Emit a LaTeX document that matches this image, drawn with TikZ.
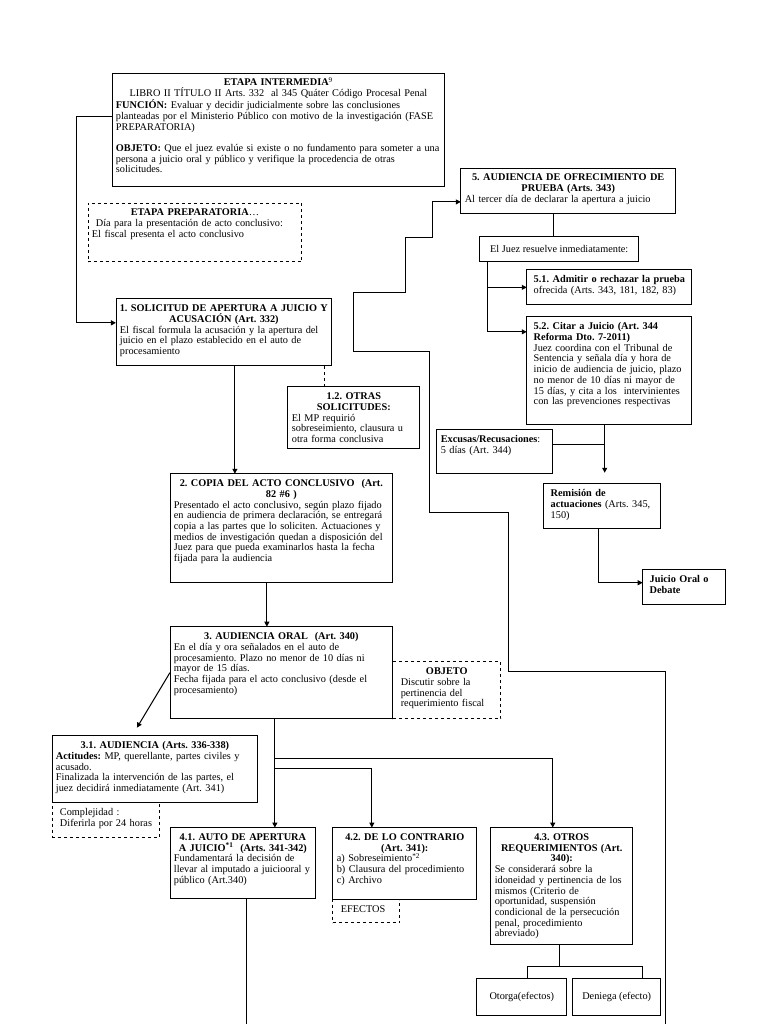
\documentclass[tikz,border=0pt]{standalone}
\usepackage{fontspec}
\setmainfont{Liberation Serif}
\usetikzlibrary{arrows.meta}
\tikzset{
  box/.style={draw, line width=0.8pt, anchor=north west, outer sep=0pt,
    inner xsep=4pt, inner ysep=3pt, align=left,
    font=\fontsize{10.3}{10.7}\selectfont\frenchspacing},
  dbox/.style={box, dashed},
  sz/.code 2 args={\pgfmathsetmacro\boxw{#1-8}\pgfmathsetmacro\boxd{#2-16}%
    \edef\boxtmp{\noexpand\pgfkeysalso{text width=\boxw pt, text height=10pt, text depth=\boxd pt}}\boxtmp},
  pz/.code 2 args={\pgfmathsetmacro\boxw{#1-14}\pgfmathsetmacro\boxd{#2-16}%
    \edef\boxtmp{\noexpand\pgfkeysalso{inner xsep=7pt, text width=\boxw pt, text height=10pt, text depth=\boxd pt}}\boxtmp},
  arr/.style={line width=1pt, -{Triangle[length=5pt,width=5pt]}},
  ln/.style={line width=1pt}
}
\begin{document}
\begin{tikzpicture}[x=1pt, y=-1pt]
    \path[fill=white] (0,0) rectangle (768,1024);
    \coordinate (e1) at (0,1024);
    \coordinate (e2) at (666,1024);

    \node[box, sz={333}{113}] (inter) at (112,73) {{\centering\textbf{ETAPA INTERMEDIA}\textsuperscript{9}\\
        LIBRO II TÍTULO II Arts. 332\ \ al 345 Quáter Código Procesal Penal\par}
        \textbf{FUNCIÓN:} Evaluar y decidir judicialmente sobre las conclusiones\\
        planteadas por el Ministerio Público con motivo de la investigación (FASE\\
        PREPARATORIA)\\[10.7pt]
        \textbf{OBJETO:} Que el juez evalúe si existe o no fundamento para someter a una\\
        persona a juicio oral y público y verifique la procedencia de otras\\
        solicitudes.};
    \node[dbox, sz={214}{59}] (prep) at (88,203) {{\centering\textbf{ETAPA PREPARATORIA}\ldots\par}
        \hspace{4pt}Día para la presentación de acto conclusivo:\\
        El fiscal presenta el acto conclusivo};

    \node[box, sz={216}{67}] (b1) at (116,299) {{\centering\makebox[\linewidth][c]{\textbf{1. SOLICITUD DE APERTURA A JUICIO Y}}\\
        \textbf{ACUSACIÓN (Art. 332)}\par}
        El fiscal formula la acusación y la apertura del\\
        juicio en el plazo establecido en el auto de\\
        procesamiento};
    \node[box, sz={132}{62}] (b12) at (288,387) {{\centering\textbf{1.2. OTRAS\\ SOLICITUDES:}\par}
        El MP requirió\\
        sobreseimiento, clausura u\\
        otra forma conclusiva};

    \node[box, sz={223}{109}] (b2) at (170,474) {{\centering\textbf{2. COPIA DEL ACTO CONCLUSIVO\ \ (Art.\\ 82 \#6 )}\par}
        Presentado el acto conclusivo, según plazo fijado\\
        en audiencia de primera declaración, se entregará\\
        copia a las partes que lo soliciten. Actuaciones y\\
        medios de investigación quedan a disposición del\\
        Juez para que pueda examinarlos hasta la fecha\\
        fijada para la audiencia};

    \node[dbox, sz={108}{57}] (obj) at (393,662) {{\centering\textbf{OBJETO}\par}
        \hspace{4pt}Discutir sobre la\\
        \hspace{4pt}pertinencia del\\
        \hspace{4pt}requerimiento fiscal};
    \node[box, sz={223}{92}] (b3) at (170,627) {{\centering\textbf{3. AUDIENCIA ORAL\ \ (Art. 340)}\par}
        En el día y ora señalados en el auto de\\
        procesamiento. Plazo no menor de 10 días ni\\
        mayor de 15 días.\\
        Fecha fijada para el acto conclusivo (desde el\\
        procesamiento)};

    \node[box, sz={206}{67}] (b31) at (52,736) {{\centering\textbf{3.1. AUDIENCIA (Arts. 336-338)}\par}
        \textbf{Actitudes:} MP, querellante, partes civiles y\\
        acusado.\\
        Finalizada la intervención de las partes, el\\
        juez decidirá inmediatamente (Art. 341)};
    \node[dbox, sz={107}{35}] (comp) at (52,803) {\hspace{4pt}Complejidad :\\ \hspace{4pt}Diferirla por 24 horas};

    \node[box, sz={146}{71}] (b41) at (170,828) {{\centering\textbf{4.1. AUTO DE APERTURA\\
        A JUICIO\textsuperscript{*1}\ \ (Arts. 341-342)}\par}
        Fundamentará la decisión de\\
        llevar al imputado a juiciooral y\\
        público (Art.340)};
    \node[box, sz={144}{72}] (b42) at (333,828) {{\centering\textbf{4.2. DE LO CONTRARIO\\ (Art. 341):}\par}
        a) Sobreseimiento\textsuperscript{*2}\\
        b) Clausura del procedimiento\\
        c) Archivo};
    \node[dbox, sz={67}{23}] (efe) at (333,900) {\hspace{4pt}EFECTOS};
    \node[box, sz={142}{117}] (b43) at (491,828) {{\centering\textbf{4.3. OTROS\\ REQUERIMIENTOS (Art.\\ 340):}\par}
        Se considerará sobre la\\
        idoneidad y pertinencia de los\\
        mismos (Criterio de\\
        oportunidad, suspensión\\
        condicional de la persecución\\
        penal, procedimiento\\
        abreviado)};
    \node[box, minimum width=90pt, minimum height=37pt] (oto) at (477,979) {Otorga(efectos)};
    \node[box, minimum width=88pt, minimum height=37pt] (den) at (573,979) {Deniega (efecto)};

    \node[box, sz={215}{46}] (b5) at (461,168) {{\centering\textbf{5. AUDIENCIA DE OFRECIMIENTO DE\\ PRUEBA (Arts. 343)}\par}
        Al tercer día de declarar la apertura a juicio};
    \node[box, minimum width=159pt, minimum height=25pt] (juez) at (480,237) {El Juez resuelve inmediatamente:};
    \node[box, pz={165}{35}] (b51) at (527,270) {\makebox[\linewidth][l]{\textbf{5.1. Admitir o rechazar la prueba}}\\
        ofrecida (Arts. 343, 181, 182, 83)};
    \node[box, pz={165}{108}] (b52) at (527,317) {\textbf{5.2. Citar a Juicio (Art. 344\\
        Reforma Dto. 7-2011)}\\
        Juez coordina con el Tribunal de\\
        Sentencia y señala día y hora de\\
        inicio de audiencia de juicio, plazo\\
        no menor de 10 días ni mayor de\\
        15 días, y cita a los\ \ intervinientes\\
        con las prevenciones respectivas};
    \node[box, sz={116}{44}] (exc) at (437,430) {\textbf{Excusas/Recusaciones}:\\ 5 días (Art. 344)};
    \node[box, pz={117}{45}] (rem) at (544,484) {\textbf{Remisión de\\ actuaciones} (Arts. 345,\\ 150)};
    \node[box, pz={83}{35}] (jui) at (643,570) {\textbf{Juicio Oral o\\ Debate}};

    \draw[arr] ([yshift=12.5pt]inter.west) -- ++(-35,0) |- ([yshift=9.5pt]b1.west);
    \draw[arr] ([xshift=11pt]b1.south) -- ([xshift=11pt]b1.south |- b2.north);
    \draw[ln, dashed] ([xshift=101pt]b1.south) -- ([xshift=101pt]b1.south |- b12.north);
    \draw[arr] ([xshift=-14.5pt]b2.south) -- ([xshift=-14.5pt]b2.south |- b3.north);
    \draw[arr] (b3.west) -- ([xshift=-18pt,yshift=8pt]b31.north);
    \draw[arr] ([xshift=-6.5pt]b3.south) -- ([xshift=-6.5pt]b3.south |- b41.north);
    \draw[arr] ([xshift=-6.5pt]b3.south) ++(0,40) -| ([xshift=-9pt]b43.north);
    \draw[arr] ([xshift=-6.5pt]b3.south) ++(0,50) -| ([xshift=-33pt]b42.north);
    \draw[ln] ([xshift=4pt]b41.south) -- ([xshift=4pt]b41.south |- e1);
    \draw[ln] ([xshift=-2pt]b43.south) -- ++(0,22);
    \draw[ln] ([xshift=6pt]oto.north) -- ++(0,-12) -| ([xshift=26pt]den.north);

    \draw[arr] (e2) |- (509,672) |- (430,513) |- (354,352) |- (406,293) |- (433,238) |- ([yshift=-11pt]b5.west);
    \draw[ln] ([xshift=-14.5pt]b5.south) -- ([xshift=-14.5pt]b5.south |- juez.north);
    \draw[arr] ([xshift=-71.5pt]juez.south) |- (b51.west);
    \draw[arr] ([xshift=-71.5pt]juez.south) |- ([yshift=39pt]b52.west);
    \draw[arr] ([xshift=-4.5pt]b52.south) -- ++(0,48);
    \draw[ln] ([yshift=7pt]exc.east) -- ++(52,0);
    \draw[arr] ([xshift=-3.5pt]rem.south) |- ([yshift=4.5pt]jui.west);
\end{tikzpicture}
\end{document}
